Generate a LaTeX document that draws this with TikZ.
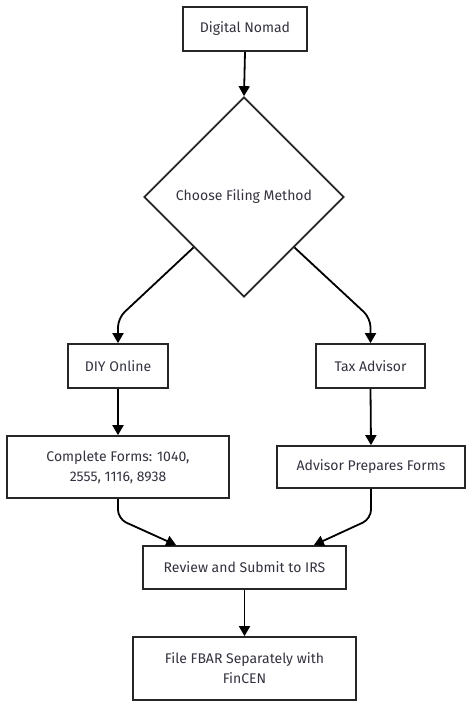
\documentclass[tikz,border=0pt]{standalone}
\usepackage{fontspec}
\setmainfont{Fira Sans}
\usetikzlibrary{shapes.geometric,arrows.meta}
\definecolor{txt}{HTML}{333340}
\tikzset{
  box/.style={draw=black!85, line width=1.7pt, fill=white, text=txt, inner sep=0pt, align=center, font=\fontsize{14}{20}\selectfont},
  dia/.style={shape=diamond, draw=black!85, line width=1.7pt, fill=white, text=txt, inner sep=0pt, minimum width=200pt, minimum height=200pt, font=\fontsize{14}{20}\selectfont},
  arr/.style={draw=black, line width=1.8pt, -{Triangle[length=10pt,width=11pt]}, rounded corners=9pt}
}
\begin{document}
\begin{tikzpicture}[x=1pt,y=-1pt]
\useasboundingbox (0,0) rectangle (474,710);
\node[box, minimum width=124pt, minimum height=44pt] (dn) at (245,29) {Digital Nomad};
\node[dia] (d) at (244,197) {Choose Filing Method};
\node[box, minimum width=100pt, minimum height=44pt] (diy) at (118,366) {DIY Online};
\node[box, minimum width=109pt, minimum height=44pt] (tax) at (370.5,366) {Tax Advisor};
\node[box, minimum width=222pt, minimum height=62pt] (cf) at (118,467) {Complete Forms: 1040,\\2555, 1116, 8938};
\node[box, minimum width=188pt, minimum height=42pt] (apf) at (371,467) {Advisor Prepares Forms};
\node[box, minimum width=203pt, minimum height=43pt] (rev) at (244.5,567.5) {Review and Submit to IRS};
\node[box, minimum width=223pt, minimum height=63pt] (fb) at (244.5,668.5) {File FBAR Separately with\\FinCEN};
\draw[arr] (dn.south) -- (d.north);
\draw[arr] (d.south west) -- ([yshift=25pt]diy.north) -- (diy.north);
\draw[arr] (d.south east) -- ([yshift=25pt]tax.north) -- (tax.north);
\draw[arr] (diy.south) -- (cf.north);
\draw[arr] (tax.south) -- (apf.north);
\draw[arr] (cf.south) -- ([yshift=-20pt]cf.south) -- ([xshift=34pt]rev.north west);
\draw[arr] (apf.south) -- ([yshift=-30pt]apf.south) -- ([xshift=-33pt]rev.north east);
\draw[arr] (rev.south) -- (fb.north);
\end{tikzpicture}
\end{document}
